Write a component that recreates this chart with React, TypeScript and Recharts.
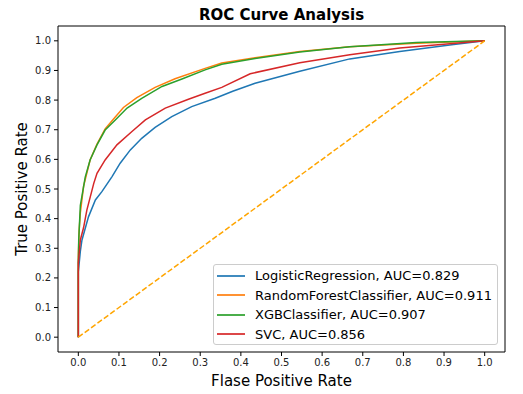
import { Line, LineChart, ReferenceLine, XAxis, YAxis } from "recharts";

const classifiers = ["LogisticRegression", "RandomForestClassifier", "XGBClassifier", "SVC"];
const aucScores = [0.829, 0.911, 0.907, 0.856];
const colors = ["#1f77b4", "#ff7f0e", "#2ca02c", "#d62728"];

// ROC points (fpr / tpr)
const lrFpr = [0, 0, 0.005, 0.009, 0.025, 0.042, 0.058, 0.083, 0.103, 0.128, 0.156, 0.189, 0.23, 0.279, 0.337, 0.38, 0.435, 0.545, 0.668, 0.791, 0.914, 1];
const lrTpr = [0, 0.22, 0.29, 0.328, 0.406, 0.463, 0.491, 0.542, 0.587, 0.632, 0.671, 0.708, 0.744, 0.778, 0.806, 0.83, 0.857, 0.897, 0.939, 0.964, 0.986, 1];

const rfFpr = [0, 0, 0.002, 0.005, 0.013, 0.029, 0.046, 0.066, 0.083, 0.111, 0.144, 0.189, 0.238, 0.312, 0.353, 0.435, 0.545, 0.668, 0.832, 1];
const rfTpr = [0, 0.27, 0.36, 0.42, 0.51, 0.598, 0.652, 0.703, 0.73, 0.775, 0.808, 0.843, 0.872, 0.907, 0.925, 0.943, 0.964, 0.98, 0.992, 1];

const xgbFpr = [0, 0, 0.001, 0.005, 0.017, 0.029, 0.046, 0.066, 0.091, 0.12, 0.156, 0.206, 0.255, 0.312, 0.353, 0.435, 0.545, 0.668, 0.832, 1];
const xgbTpr = [0, 0.25, 0.328, 0.445, 0.54, 0.598, 0.649, 0.699, 0.733, 0.773, 0.806, 0.846, 0.871, 0.902, 0.921, 0.94, 0.962, 0.98, 0.994, 1];

const svcFpr = [0, 0, 0.005, 0.013, 0.021, 0.038, 0.046, 0.066, 0.095, 0.132, 0.165, 0.214, 0.271, 0.312, 0.353, 0.423, 0.545, 0.668, 0.791, 0.914, 1];
const svcTpr = [0, 0.25, 0.328, 0.37, 0.429, 0.519, 0.553, 0.598, 0.649, 0.694, 0.733, 0.773, 0.803, 0.823, 0.843, 0.889, 0.926, 0.953, 0.976, 0.99, 1];

const chanceFpr = [0, 1];
const chanceTpr = [0, 1];

const axisTicks = [0, 0.1, 0.2, 0.3, 0.4, 0.5, 0.6, 0.7, 0.8, 0.9, 1.0];

const toPoints = (fpr: number[], tpr: number[]) =>
  fpr.map((x, i) => ({ fpr: x, tpr: tpr[i] }));

const curves = [
  toPoints(lrFpr, lrTpr),
  toPoints(rfFpr, rfTpr),
  toPoints(xgbFpr, xgbTpr),
  toPoints(svcFpr, svcTpr),
];

const font = "'DejaVu Sans', sans-serif";
const tickStyle = { fill: "#222", fontSize: 10, fontFamily: font };

export default function App() {
  return (
    <div
      style={{
        position: "absolute",
        left: 0,
        top: 0,
        width: 523,
        height: 394,
        background: "#fff",
        fontFamily: font,
      }}
    >
      <div
        style={{
          position: "absolute",
          left: 58,
          width: 447,
          top: 5,
          textAlign: "center",
          fontSize: 15,
          fontWeight: "bold",
          lineHeight: "20px",
          color: "#000",
        }}
      >
        ROC Curve Analysis
      </div>
      <LineChart
        width={523}
        height={394}
        margin={{ top: 26, right: 18, left: 0, bottom: 0 }}
      >
        <XAxis
          dataKey="fpr"
          type="number"
          domain={[-0.05, 1.05]}
          allowDataOverflow
          ticks={axisTicks}
          tickFormatter={(v: number) => v.toFixed(1)}
          tick={tickStyle}
          tickSize={4}
          tickMargin={3}
          height={42}
          stroke="#000"
          label={{
            value: "Flase Positive Rate",
            position: "insideBottom",
            offset: 8,
            style: { fontSize: 15, fontFamily: font, fill: "#000" },
          }}
        />
        <YAxis
          type="number"
          domain={[-0.05, 1.05]}
          allowDataOverflow
          ticks={axisTicks}
          tickFormatter={(v: number) => v.toFixed(1)}
          tick={tickStyle}
          tickSize={4}
          tickMargin={3}
          width={58}
          stroke="#000"
          label={{
            value: "True Positive Rate",
            angle: -90,
            position: "insideLeft",
            offset: 22,
            style: { fontSize: 15, fontFamily: font, fill: "#000", textAnchor: "middle" },
          }}
        />
        <ReferenceLine y={1.05} stroke="#000" ifOverflow="visible" />
        <ReferenceLine x={1.05} stroke="#000" ifOverflow="visible" />
        {curves.map((pts, i) => (
          <Line
            key={classifiers[i]}
            data={pts}
            dataKey="tpr"
            type="linear"
            stroke={colors[i]}
            strokeWidth={1.5}
            dot={false}
            isAnimationActive={false}
          />
        ))}
        <Line
          data={toPoints(chanceFpr, chanceTpr)}
          dataKey="tpr"
          type="linear"
          stroke="orange"
          strokeWidth={1.5}
          strokeDasharray="5.5 2.4"
          dot={false}
          isAnimationActive={false}
        />
      </LineChart>
      <div
        style={{
          position: "absolute",
          left: 213,
          top: 264,
          width: 285,
          height: 81,
          boxSizing: "border-box",
          border: "1px solid #cccccc",
          borderRadius: 3,
          background: "rgba(255,255,255,0.8)",
        }}
      >
        {classifiers.map((name, i) => (
          <div
            key={name}
            style={{
              position: "absolute",
              left: 0,
              top: 0.7 + i * 19.45,
              height: 20,
              display: "flex",
              alignItems: "center",
              fontSize: 13,
              color: "#000",
              whiteSpace: "nowrap",
            }}
          >
            <span
              style={{
                display: "inline-block",
                marginLeft: 3,
                width: 28,
                height: 2,
                background: colors[i],
                opacity: 0.85,
              }}
            />
            <span style={{ marginLeft: 10 }}>
              {name}, AUC={aucScores[i].toFixed(3)}
            </span>
          </div>
        ))}
      </div>
    </div>
  );
}
